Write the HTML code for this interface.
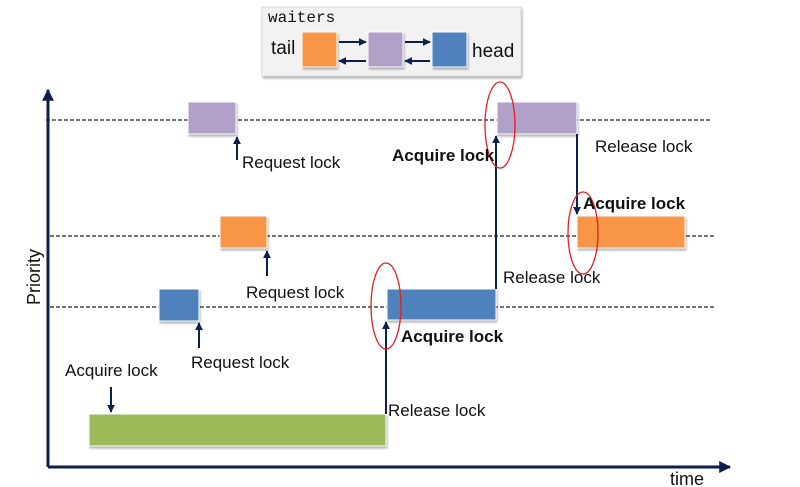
<!DOCTYPE html>
<html><head><meta charset="utf-8"><style>
html,body{margin:0;padding:0;background:#fff;}
svg{display:block;}
text{font-family:"Liberation Sans",sans-serif;font-size:17px;fill:#111;}
.b{font-weight:bold;}
</style></head><body>
<svg width="800" height="487" viewBox="0 0 800 487" xmlns="http://www.w3.org/2000/svg">
<defs>
<marker id="a" viewBox="0 0 10 10" refX="9" refY="5" markerWidth="4" markerHeight="4" orient="auto-start-reverse"><path d="M0,0 L10,5 L0,10 z" fill="#0d1f4f"/></marker>
<filter id="s" x="-10%" y="-10%" width="130%" height="140%"><feDropShadow dx="1" dy="2" stdDeviation="1" flood-opacity="0.3"/></filter>
</defs>
<rect x="262" y="7" width="259" height="69" fill="#f2f2f2" stroke="#d9d9d9" filter="url(#s)"/>
<text x="268" y="22" style="font-family:'Liberation Mono',monospace;font-size:16px">waiters</text>
<text x="271" y="54" style="font-size:19px">tail</text>
<text x="472" y="57" style="font-size:19px">head</text>
<rect x="302" y="32" width="35" height="35" fill="#f79646" stroke="#fff" filter="url(#s)"/>
<rect x="368" y="32" width="35" height="35" fill="#b1a0c7" stroke="#fff" filter="url(#s)"/>
<rect x="432" y="32" width="35" height="35" fill="#4f81bd" stroke="#fff" filter="url(#s)"/>
<g stroke="#0d1f4f" stroke-width="2" fill="none">
<line x1="339" y1="42" x2="366" y2="42" marker-end="url(#a)"/>
<line x1="366" y1="61" x2="339" y2="61" marker-end="url(#a)"/>
<line x1="405" y1="42" x2="430" y2="42" marker-end="url(#a)"/>
<line x1="430" y1="61" x2="405" y2="61" marker-end="url(#a)"/>
</g>
<g stroke="#0d1f4f" stroke-width="3" fill="none">
<line x1="48" y1="467" x2="48" y2="90" marker-end="url(#a)"/>
<line x1="48" y1="467" x2="730" y2="467" marker-end="url(#a)"/>
</g>
<text transform="translate(40,277) rotate(-90)" text-anchor="middle" style="font-size:18px">Priority</text>
<text x="670" y="485" style="font-size:18px">time</text>
<g stroke="#222" stroke-width="1.2" stroke-dasharray="4,2">
<line x1="46" y1="120" x2="710" y2="120"/>
<line x1="50" y1="236" x2="715" y2="236"/>
<line x1="50" y1="307" x2="715" y2="307"/>
</g>
<g stroke="#fff" filter="url(#s)">
<rect x="188" y="102" width="48" height="32" fill="#b1a0c7"/>
<rect x="497" y="102" width="80" height="32" fill="#b1a0c7"/>
<rect x="220" y="216" width="47" height="32" fill="#f79646"/>
<rect x="577" y="216" width="108" height="32" fill="#f79646"/>
<rect x="159" y="289" width="40" height="32" fill="#4f81bd"/>
<rect x="387" y="289" width="109" height="31" fill="#4f81bd"/>
<rect x="89" y="414" width="297" height="32" fill="#9bbb59"/>
</g>
<g stroke="#0d1f4f" stroke-width="2" fill="none">
<line x1="237" y1="160" x2="237" y2="137" marker-end="url(#a)"/>
<line x1="267" y1="276" x2="267" y2="251" marker-end="url(#a)"/>
<line x1="199" y1="348" x2="199" y2="323" marker-end="url(#a)"/>
<line x1="111" y1="387" x2="111" y2="412" marker-end="url(#a)"/>
<line x1="386" y1="414" x2="386" y2="322" marker-end="url(#a)"/>
<line x1="496" y1="289" x2="496" y2="136" marker-end="url(#a)"/>
<line x1="577" y1="134" x2="577" y2="214" marker-end="url(#a)"/>
</g>
<g stroke="#e02020" stroke-width="1.3" fill="none">
<ellipse cx="500" cy="125" rx="15" ry="43"/>
<ellipse cx="386" cy="306" rx="15" ry="43"/>
<ellipse cx="583" cy="233" rx="15" ry="41"/>
</g>
<text x="242" y="168">Request lock</text>
<text x="246" y="298">Request lock</text>
<text x="191" y="368">Request lock</text>
<text x="65" y="376">Acquire lock</text>
<text x="388" y="416">Release lock</text>
<text x="503" y="283">Release lock</text>
<text x="595" y="152">Release lock</text>
<text x="392" y="161" class="b">Acquire lock</text>
<text x="583" y="209" class="b">Acquire lock</text>
<text x="401" y="342" class="b">Acquire lock</text>
</svg>
</body></html>
